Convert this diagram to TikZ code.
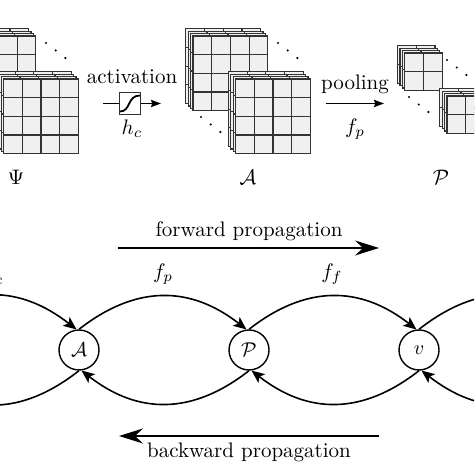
\documentclass[tikz,border=0pt]{standalone}
\usepackage{amsmath,amssymb}
\usetikzlibrary{arrows.meta}

\tikzset{
    cellbox/.style={draw=black!80,fill=black!6,line width=0.6pt},
    statenode/.style={draw,circle,line width=0.7pt,minimum size=20pt,inner sep=0pt},
    textlabel/.style={scale=1.05},
    arcline/.style={line width=0.8pt,-{Stealth[length=6.5pt,width=5.5pt,inset=1.5pt]}},
    flowline/.style={line width=0.7pt,-{Stealth[length=12pt,width=7.5pt,inset=4pt]}},
    opline/.style={line width=0.8pt,-{Stealth[length=5pt,width=3.6pt,inset=0.6pt]}}
}

% Stack of feature maps: left, top, cells per side
\newcommand{\mapstack}[3]{
    \foreach \k in {3,2,1,0}
    {
        \foreach \i in {1,...,#3}
        {
            \foreach \j in {1,...,#3}
            {
                \draw[cellbox] ({#1-\k*2.4+(\i-1)*18.7},{#2+\k*2.4-(\j-1)*18.7})
                    rectangle ++(18.7,-18.7);
            }
        }
    }
}

% Three dots going down to the right
\newcommand{\mapdots}[2]{
    \foreach \d in {0,1,2}
    {
        \fill ({#1+\d*9.7},{#2-\d*7.5}) circle (1.2);
    }
}

\begin{document}
\begin{tikzpicture}[x=0.5pt,y=0.5pt]

        \useasboundingbox (0,0) rectangle (474,474);
        \clip (0,0) rectangle (474,474);

        % Stacks, top row
        \mapstack{-39}{438}{4}
        \mapdots{46}{431}
        \mapstack{3.6}{395}{4}

        \mapstack{193}{438}{4}
        \mapdots{278}{431}
        \mapdots{201}{357}
        \mapstack{235.6}{395}{4}

        \mapstack{404.7}{421}{2}
        \mapdots{447}{414}
        \mapdots{409}{377}
        \mapstack{447}{378}{2}

        % Stack labels
        \node[textlabel] (labelpsi) at (16,297) {$\Psi$};
        \node[textlabel] (labela) at (248,297) {$\mathcal{A}$};
        \node[textlabel] (labelp) at (441,297) {$\mathcal{P}$};

        % Activation
        \node[textlabel] (activation) at (132,397) {activation};
        \node[draw=black!80,line width=0.6pt,minimum size=10.8pt,inner sep=0pt] (hbox) at (130,370.5) {};
        \coordinate (hin) at (103,370.5);
        \coordinate (hout) at (161,370.5);
        \draw[line width=0.8pt] (hin) -- (hbox);
        \draw[opline] (hbox) -- (hout);
        \draw[line width=0.9pt] (120,362.5) .. controls (131,362.5) and (127,378.5) .. (140,378.5);
        \node[textlabel] (hc) at (132,345) {$h_c$};

        % Pooling
        \node[textlabel] (pooling) at (355,390) {pooling};
        \coordinate (pin) at (326,370.5);
        \coordinate (pout) at (384,370.5);
        \draw[opline] (pin) -- (pout);
        \node[textlabel] (fptop) at (355,345) {$f_p$};

        % Forward and backward
        \node[textlabel] (forward) at (249,243) {forward propagation};
        \coordinate (fwdstart) at (118,226);
        \coordinate (fwdend) at (379,226);
        \draw[flowline] (fwdstart) -- (fwdend);

        \node[textlabel] (backward) at (249,22) {backward propagation};
        \coordinate (bwdstart) at (379,38);
        \coordinate (bwdend) at (119,38);
        \draw[flowline] (bwdstart) -- (bwdend);

        % States
        \node[statenode] (stateA) at (79,124) {$\mathcal{A}$};
        \node[statenode] (stateP) at (249,124) {$\mathcal{P}$};
        \node[statenode] (statev) at (419,124) {$v$};
        \coordinate (prevtop) at (-91,146);
        \coordinate (prevbot) at (-91,102);
        \coordinate (nexttop) at (589,146);
        \coordinate (nextbot) at (589,102);

        % Arcs
        \draw[arcline] (prevtop) to[out=38,in=142,looseness=1.1] (stateA.97);
        \draw[arcline] (stateA.north) to[out=38,in=142,looseness=1.1] (stateP.97);
        \draw[arcline] (stateP.north) to[out=38,in=142,looseness=1.1] (statev.97);
        \draw[line width=0.8pt] (statev.north) to[out=38,in=142,looseness=1.1] (nexttop);

        \draw[arcline] (nextbot) to[out=218,in=-38,looseness=1.1] (statev.-83);
        \draw[arcline] (statev.south) to[out=218,in=-38,looseness=1.1] (stateP.-83);
        \draw[arcline] (stateP.south) to[out=218,in=-38,looseness=1.1] (stateA.-83);
        \draw[line width=0.8pt] (stateA.south) to[out=218,in=-38,looseness=1.1] (prevbot);

        % Arc labels
        \node[textlabel] (hcarc) at (-7,198) {$h_c$};
        \node[textlabel] (fparc) at (163,200) {$f_p$};
        \node[textlabel] (ffarc) at (332,200) {$f_f$};

\end{tikzpicture}
\end{document}
